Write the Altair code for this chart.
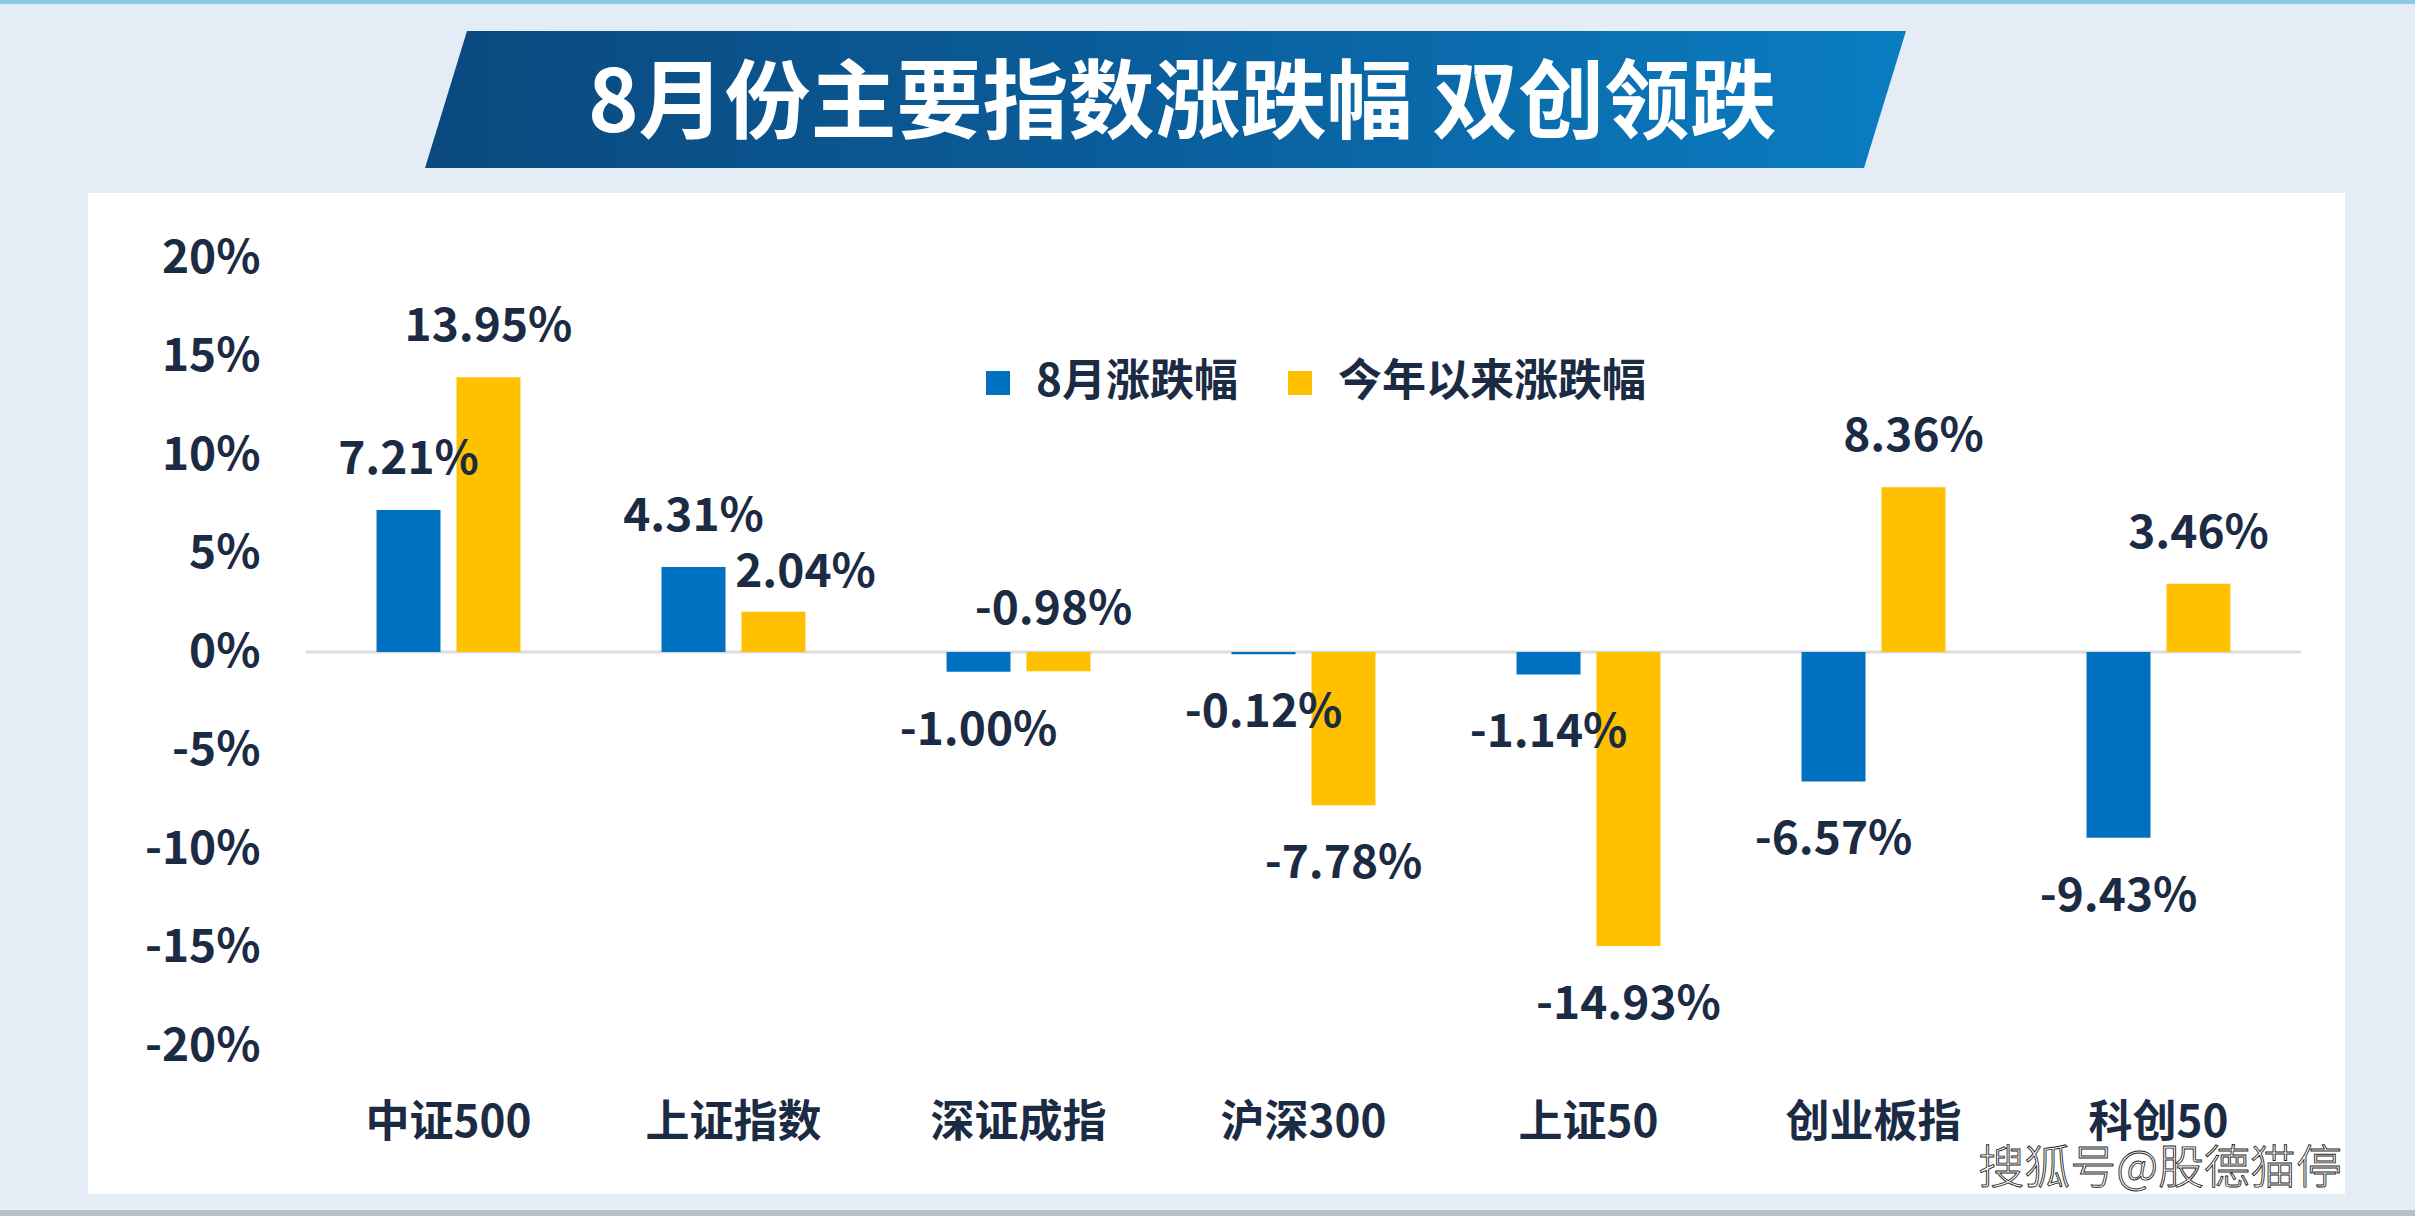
import altair as alt
import pandas as pd

# ---------------- data ----------------
categories = ["中证500", "上证指数", "深证成指", "沪深300", "上证50", "创业板指", "科创50"]
series_names = ["8月涨跌幅", "今年以来涨跌幅"]
aug_change = [7.21, 4.31, -1.00, -0.12, -1.14, -6.57, -9.43]
ytd_change = [13.95, 2.04, -0.98, -7.78, -14.93, 8.36, 3.46]
y_ticks = [-20, -15, -10, -5, 0, 5, 10, 15, 20]
series_colors = ["#0070c0", "#ffc000"]
title_text = "8月份主要指数涨跌幅 双创领跌"
watermark_text = "搜狐号@股德猫停"

rows = []
for c, a, t in zip(categories, aug_change, ytd_change):
    rows.append({"category": c, "series": series_names[0], "value": a})
    rows.append({"category": c, "series": series_names[1], "value": t})
df = pd.DataFrame(rows)

# label nudges (dx, dy in px, anchor) for labels moved by hand in the original
label_nudges = {
    ("上证指数", "今年以来涨跌幅"): (32, -25, "bar"),
    ("深证成指", "今年以来涨跌幅"): (-5, -28, "zero"),
}

# ---------------- layout ----------------
PL, PT = 306, 258          # plot origin in page pixels
W, H = 1995, 788           # plot area
TOTAL_W, TOTAL_H = 2415, 1216
FONT = "Noto Sans CJK SC"
INK = "#1c2b44"

def px(x):
    return x - PL

def py(y):
    return y - PT

one = pd.DataFrame({"k": [0]})

# white panel
panel = alt.Chart(one).mark_rect(color="#ffffff").encode(
    x=alt.value(px(88)), x2=alt.value(px(2345)),
    y=alt.value(py(193)), y2=alt.value(py(1194)),
)
top_line = alt.Chart(one).mark_rect(color="#8cc8ec").encode(
    x=alt.value(px(0)), x2=alt.value(px(TOTAL_W)),
    y=alt.value(py(0)), y2=alt.value(py(4)),
)
bottom_band = alt.Chart(one).mark_rect(color="#b9c0c8").encode(
    x=alt.value(px(0)), x2=alt.value(px(TOTAL_W)),
    y=alt.value(py(1210)), y2=alt.value(py(TOTAL_H)),
)

# title banner (parallelogram with gradient)
bw = 1481.0
half = bw / 2
slant = 42 / half
hh = 68.5 / half
banner_path = (
    f"M {-1 + slant:.4f} {-hh:.4f} L 1 {-hh:.4f} "
    f"L {1 - slant:.4f} {hh:.4f} L -1 {hh:.4f} Z"
)
banner = alt.Chart(one).mark_point(
    shape=banner_path,
    size=bw * bw,
    filled=True,
    opacity=1,
    strokeWidth=0,
    color=alt.Gradient(
        gradient="linear",
        stops=[
            alt.GradientStop(color="#0b497f", offset=0),
            alt.GradientStop(color="#0a5e9c", offset=0.5),
            alt.GradientStop(color="#0a7dc2", offset=1),
        ],
        x1=0, x2=1, y1=0, y2=0,
    ),
).encode(x=alt.value(px(1165.5)), y=alt.value(py(99.5)))

title = alt.Chart(one).mark_text(
    text=title_text, font=FONT, fontSize=86, fontWeight="bold",
    color="#ffffff", align="center", baseline="alphabetic",
).encode(x=alt.value(px(1182)), y=alt.value(py(132)))

watermark = alt.Chart(one).mark_text(
    text=watermark_text, font=FONT, fontSize=46, fontWeight=300,
    color="#ffffff", stroke="#1e1e1e", strokeWidth=0.9,
    align="right", baseline="alphabetic",
).encode(x=alt.value(px(2342)), y=alt.value(py(1183)))

# ---------------- chart ----------------
x_enc = alt.X(
    "category:N", sort=categories,
    scale=alt.Scale(paddingInner=0.495, paddingOuter=0.2475),
    axis=alt.Axis(
        title=None, domain=False, ticks=False, tickSize=0, grid=False,
        labelFont=FONT, labelFontSize=44, labelFontWeight="bold",
        labelColor=INK, labelPadding=90, labelBaseline="alphabetic",
        labelAngle=0, labelLimit=500, zindex=2,
    ),
)
xoff_enc = alt.XOffset(
    "series:N", sort=series_names,
    scale=alt.Scale(paddingInner=0.2, paddingOuter=0),
)
y_scale = alt.Scale(domain=[-20, 20], nice=False)
y_enc = alt.Y(
    "value:Q", scale=y_scale,
    axis=alt.Axis(
        title=None, domain=False, ticks=False, tickSize=0, grid=False,
        values=y_ticks, labelExpr="datum.value + '%'",
        labelFont=FONT, labelFontSize=46, labelFontWeight="bold",
        labelColor=INK, labelPadding=46, labelLimit=400, zindex=2,
    ),
)
color_enc = alt.Color(
    "series:N", sort=series_names,
    scale=alt.Scale(domain=series_names, range=series_colors),
    legend=alt.Legend(
        title=None, orient="none", legendX=px(976), legendY=py(361),
        direction="horizontal", symbolType="square", symbolSize=576,
        symbolStrokeWidth=0, symbolOpacity=1,
        labelFont=FONT, labelFontSize=44, labelFontWeight="bold",
        labelColor=INK, labelOffset=16, columnPadding=40, padding=0,
        labelLimit=1000, zindex=2,
    ),
)

base = alt.Chart(df)

zero_rule = alt.Chart(one).mark_rule(color="#dcdcdc", strokeWidth=3).encode(
    y=alt.datum(0, scale=y_scale), x=alt.value(0), x2=alt.value(W),
)

bars = base.mark_bar().encode(
    x=x_enc, xOffset=xoff_enc, y=y_enc, color=color_enc,
)

label_calc = "replace(format(datum.value, '.2f'), '\u2212', '-') + '%'"
special_expr = " || ".join(
    f"(datum.category == '{c}' && datum.series == '{s}')" for (c, s) in label_nudges
)

text_kw = dict(font=FONT, fontSize=46, fontWeight="bold", color=INK,
               align="center", baseline="alphabetic")

pos_labels = base.transform_filter(
    f"datum.value >= 0 && !({special_expr})"
).transform_calculate(label=label_calc).mark_text(dy=-36, **text_kw).encode(
    x=x_enc, xOffset=xoff_enc, y=alt.Y("value:Q", scale=y_scale), text="label:N",
)
neg_labels = base.transform_filter(
    f"datum.value < 0 && !({special_expr})"
).transform_calculate(label=label_calc).mark_text(dy=73, **text_kw).encode(
    x=x_enc, xOffset=xoff_enc, y=alt.Y("value:Q", scale=y_scale), text="label:N",
)

special_layers = []
for (c, s), (ddx, ddy, anchor) in label_nudges.items():
    anchor_expr = "datum.value" if anchor == "bar" else "0"
    lyr = base.transform_filter(
        f"datum.category == '{c}' && datum.series == '{s}'"
    ).transform_calculate(
        label=label_calc, anchor=anchor_expr
    ).mark_text(dx=ddx, dy=ddy, **text_kw).encode(
        x=x_enc, xOffset=xoff_enc, y=alt.Y("anchor:Q", scale=y_scale), text="label:N",
    )
    special_layers.append(lyr)

chart = alt.layer(
    panel, top_line, bottom_band, banner, title,
    zero_rule, bars, pos_labels, neg_labels, *special_layers,
    watermark,
).properties(
    width=W, height=H,
    padding={"left": PL, "top": PT, "right": TOTAL_W - PL - W, "bottom": TOTAL_H - PT - H},
    autosize=alt.AutoSizeParams(type="none"),
).configure(
    background="#e4edf6",
).configure_view(strokeWidth=0)

chart.save("out.html", embed_options={"renderer": "svg", "actions": False})
